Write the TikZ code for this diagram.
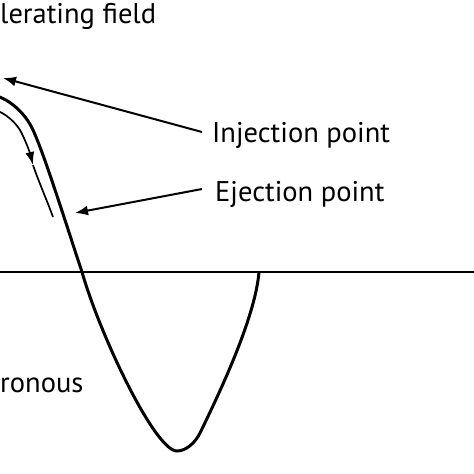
\documentclass[tikz,border=0pt]{standalone}
\usepackage{fontspec}
\setmainfont{PT Sans}
\usetikzlibrary{arrows.meta}

\begin{document}
\begin{tikzpicture}[x=1pt,y=-1pt,font=\fontsize{28.5}{34}\selectfont,
    lbl/.style={anchor=base west,inner sep=0pt},
    ptr/.style={line width=2pt,-{Latex[length=13pt,width=10pt]}}]
      \useasboundingbox (0,0) rectangle (474,474);
      \node[lbl] (acc) at (0,23) {lerating field};
      \node[lbl] (syn) at (0,392) {ronous};
      \node[lbl] (inj) at (212,142) {Injection point};
      \node[lbl] (ej) at (215,201) {Ejection point};
      \coordinate (injtip) at (3,78);
      \coordinate (ejtip) at (75,213);
      \coordinate (l) at (0,272);
      \coordinate (r) at (474,272);
      \coordinate (mid) at (33,165);

      \draw[line width=1.5pt] (l) -- (r);
      \draw[line width=3pt] (-15,94) .. controls (5,94) and (25,112) .. (33,130)
        .. controls (45,156) and (67,227) .. (82,272)
        .. controls (100,335) and (155,451) .. (177,451)
        .. controls (186,451) and (195,443) .. (200,433)
        .. controls (216,400) and (255,320) .. (259,272);
      \draw[line width=1.7pt,-{Latex[length=13pt,width=9pt]}]
        (-12,109) .. controls (0,109) and (13,119) .. (20,130)
        .. controls (25,139) and (30,153) .. (mid);
      \draw[line width=1.7pt] (mid) .. controls (38,180) and (48,203) .. (53,217);

      \draw[ptr] ([shift={(-10,-10)}]inj.base west) -- (injtip);
      \draw[ptr] ([shift={(-13,-12)}]ej.base west) -- (ejtip);
    \end{tikzpicture}
\end{document}
